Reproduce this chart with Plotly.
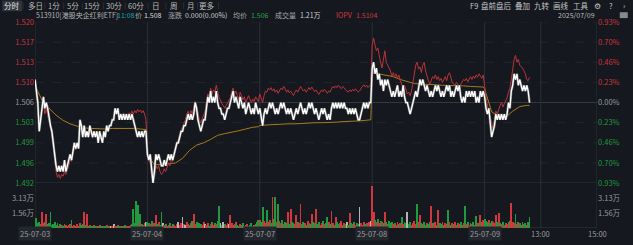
import plotly.graph_objects as go

# ---------------- data ----------------
BASE = 1.506          # reference price (0.00%)
STEP = 3              # minutes between samples
DAY_MIN = 240         # trading minutes per day

day_labels = ["25-07-03", "25-07-04", "25-07-07", "25-07-08", "25-07-09"]
extra_labels = [("13:00", 4 * 240 + 120), ("15:00", 5 * 240)]

price_d1 = [1.510,1.508,1.506,1.501,1.503,1.506,1.507,1.505,1.506,1.505,
            1.503,1.502,1.501,1.499,1.496,1.495,1.494,1.495,1.494,1.495,
            1.494,1.496,1.494,1.495,1.496,1.497,1.496,1.498,1.499,1.498,
            1.499,1.498,1.503,1.502,1.500,1.502,1.500,1.501,1.500,1.502,
            1.501,1.500,1.501,1.500,1.501,1.499,1.501,1.500,1.499,1.501,
            1.500,1.502,1.501,1.502,1.502,1.503,1.503,1.505,1.504,1.505,
            1.503,1.504,1.503,1.504,1.503,1.504,1.503,1.504,1.503,1.504,
            1.503,1.502,1.501,1.500,1.501,1.500,1.501,1.500,1.501,1.501]
price_d2 = [1.497,1.496,1.497,1.494,1.492,1.494,1.497,1.496,1.497,1.496,
            1.495,1.495,1.496,1.495,1.496,1.497,1.496,1.497,1.496,1.497,
            1.498,1.499,1.499,1.500,1.501,1.501,1.502,1.502,1.503,1.504,
            1.503,1.504,1.503,1.504,1.506,1.505,1.503,1.502,1.501,1.502,
            1.503,1.503,1.505,1.507,1.506,1.508,1.506,1.507,1.506,1.508,
            1.506,1.505,1.505,1.504,1.504,1.503,1.504,1.505,1.505,1.506,
            1.507,1.508,1.506,1.507,1.506,1.505,1.507,1.506,1.505,1.506,
            1.504,1.505,1.506,1.505,1.504,1.505,1.504,1.506,1.505,1.504]
price_d3 = [1.505,1.503,1.502,1.504,1.505,1.504,1.505,1.506,1.505,1.506,
            1.505,1.504,1.505,1.504,1.505,1.506,1.505,1.506,1.505,1.504,
            1.505,1.504,1.505,1.504,1.503,1.504,1.505,1.504,1.505,1.506,
            1.505,1.504,1.505,1.504,1.505,1.506,1.505,1.506,1.505,1.504,
            1.505,1.504,1.503,1.504,1.505,1.504,1.505,1.504,1.503,1.504,
            1.503,1.505,1.506,1.505,1.506,1.505,1.506,1.505,1.506,1.505,
            1.506,1.505,1.505,1.504,1.505,1.504,1.505,1.504,1.505,1.504,
            1.503,1.503,1.504,1.505,1.506,1.505,1.506,1.505,1.506,1.506]
price_d4 = [1.512,1.513,1.511,1.512,1.510,1.511,1.509,1.510,1.508,1.510,
            1.509,1.510,1.509,1.508,1.507,1.508,1.507,1.508,1.509,1.507,
            1.508,1.507,1.509,1.507,1.506,1.506,1.505,1.504,1.505,1.506,
            1.507,1.508,1.507,1.509,1.510,1.509,1.510,1.509,1.508,1.509,
            1.508,1.507,1.508,1.507,1.508,1.509,1.508,1.509,1.508,1.507,
            1.508,1.507,1.508,1.509,1.508,1.509,1.507,1.508,1.507,1.508,
            1.509,1.508,1.509,1.507,1.506,1.507,1.506,1.508,1.507,1.508,
            1.507,1.508,1.507,1.508,1.506,1.507,1.506,1.508,1.507,1.508]
price_d5 = [1.507,1.505,1.504,1.505,1.503,1.500,1.501,1.502,1.504,1.503,
            1.504,1.503,1.504,1.503,1.504,1.503,1.504,1.506,1.505,1.508,
            1.509,1.511,1.510,1.511,1.509,1.510,1.509,1.508,1.509,1.508,
            1.509,1.508,1.506]

iopv_d1 = [1.5100,1.5085,1.5060,1.5020,1.5035,1.5055,1.5060,1.5040,1.5050,1.5040,
           1.5030,1.5015,1.5005,1.4985,1.4955,1.4940,1.4930,1.4935,1.4928,1.4935,
           1.4932,1.4940,1.4935,1.4942,1.4950,1.4960,1.4958,1.4970,1.4980,1.4978,
           1.4985,1.4990,1.5020,1.5015,1.5005,1.5012,1.5000,1.5008,1.5002,1.5010,
           1.5005,1.4998,1.5006,1.5000,1.5004,1.4995,1.5003,1.4998,1.4995,1.5005,
           1.5002,1.5012,1.5010,1.5018,1.5022,1.5030,1.5035,1.5045,1.5040,1.5045,
           1.5035,1.5040,1.5038,1.5042,1.5038,1.5040,1.5036,1.5042,1.5040,1.5045,
           1.5040,1.5046,1.5042,1.5048,1.5044,1.5047,1.5042,1.5046,1.5040,1.5030]
iopv_d2 = [1.4975,1.4960,1.4955,1.4935,1.4925,1.4930,1.4950,1.4945,1.4950,1.4940,
           1.4935,1.4938,1.4945,1.4940,1.4948,1.4955,1.4950,1.4960,1.4958,1.4968,
           1.4978,1.4990,1.4995,1.5005,1.5012,1.5018,1.5025,1.5030,1.5040,1.5045,
           1.5038,1.5046,1.5040,1.5050,1.5062,1.5055,1.5042,1.5030,1.5025,1.5032,
           1.5040,1.5045,1.5060,1.5075,1.5070,1.5085,1.5075,1.5082,1.5078,1.5090,
           1.5080,1.5068,1.5065,1.5058,1.5055,1.5050,1.5055,1.5060,1.5062,1.5068,
           1.5078,1.5085,1.5075,1.5080,1.5072,1.5065,1.5078,1.5072,1.5065,1.5070,
           1.5060,1.5066,1.5072,1.5066,1.5060,1.5066,1.5062,1.5070,1.5066,1.5062]
iopv_d3 = [1.5075,1.5065,1.5060,1.5072,1.5080,1.5078,1.5085,1.5082,1.5086,1.5080,
           1.5084,1.5078,1.5082,1.5076,1.5080,1.5085,1.5082,1.5088,1.5084,1.5078,
           1.5082,1.5077,1.5080,1.5076,1.5072,1.5078,1.5082,1.5078,1.5084,1.5088,
           1.5084,1.5080,1.5083,1.5078,1.5082,1.5086,1.5082,1.5087,1.5083,1.5079,
           1.5082,1.5078,1.5074,1.5078,1.5082,1.5079,1.5083,1.5080,1.5076,1.5080,
           1.5078,1.5084,1.5088,1.5085,1.5089,1.5086,1.5090,1.5087,1.5084,1.5088,
           1.5086,1.5082,1.5080,1.5078,1.5082,1.5079,1.5083,1.5080,1.5084,1.5081,
           1.5078,1.5080,1.5085,1.5088,1.5091,1.5087,1.5090,1.5086,1.5089,1.5092]
iopv_d4 = [1.5160,1.5172,1.5160,1.5150,1.5155,1.5140,1.5130,1.5120,1.5140,1.5150,
           1.5130,1.5125,1.5120,1.5115,1.5105,1.5112,1.5105,1.5110,1.5102,1.5108,
           1.5098,1.5092,1.5085,1.5090,1.5080,1.5075,1.5078,1.5072,1.5080,1.5095,
           1.5110,1.5125,1.5130,1.5118,1.5122,1.5112,1.5125,1.5130,1.5115,1.5105,
           1.5098,1.5092,1.5100,1.5105,1.5102,1.5108,1.5100,1.5105,1.5098,1.5102,
           1.5095,1.5100,1.5105,1.5098,1.5108,1.5112,1.5102,1.5095,1.5092,1.5090,
           1.5095,1.5092,1.5088,1.5092,1.5095,1.5100,1.5098,1.5102,1.5096,1.5100,
           1.5105,1.5100,1.5106,1.5102,1.5108,1.5104,1.5110,1.5106,1.5102,1.5108]
iopv_d5 = [1.5085,1.5070,1.5055,1.5045,1.5035,1.5025,1.5015,1.5030,1.5045,1.5040,
           1.5050,1.5055,1.5060,1.5052,1.5058,1.5062,1.5068,1.5078,1.5085,1.5100,
           1.5120,1.5135,1.5142,1.5130,1.5135,1.5125,1.5122,1.5120,1.5115,1.5110,
           1.5100,1.5098,1.5104]

# average price, sampled at these sample indices of each day
avg_idx_full = [0, 5, 10, 15, 20, 25, 30, 35, 40, 45, 50, 55, 60, 65, 70, 75, 79]
avg_idx_d5 = [0, 5, 10, 15, 20, 25, 30, 32]
avg_d1 = [1.5090,1.5064,1.5050,1.5038,1.5029,1.5023,1.5019,1.5016,1.5015,1.5014,1.5014,1.5015,1.5015,1.5016,1.5015,1.5014,1.5013]
avg_d2 = [1.4970,1.4952,1.4952,1.4953,1.4955,1.4963,1.4977,1.4986,1.4990,1.4996,1.5003,1.5006,1.5008,1.5011,1.5014,1.5017,1.5018]
avg_d3 = [1.5020,1.5021,1.5022,1.5022,1.5023,1.5023,1.5024,1.5024,1.5025,1.5025,1.5025,1.5026,1.5027,1.5027,1.5028,1.5029,1.5030]
avg_d4 = [1.5112,1.5110,1.5108,1.5105,1.5100,1.5096,1.5093,1.5092,1.5092,1.5091,1.5090,1.5090,1.5089,1.5089,1.5088,1.5088,1.5087]
avg_d5 = [1.5084,1.5044,1.5036,1.5034,1.5045,1.5053,1.5055,1.5055]

# volume in 万 (10k shares)
vol_d1 = [0.7,1.0,0.5,0.6,0.4,1.66,0.5,0.6,1.5,0.4,
          0.5,1.66,0.3,0.4,0.6,0.3,0.5,0.2,0.4,0.3,
          0.2,0.4,0.3,0.2,0.3,0.4,0.85,0.2,0.3,0.2,
          0.4,0.2,0.5,0.3,0.4,1.66,0.3,1.5,0.2,0.3,
          0.2,0.1,0.3,0.2,0.1,0.2,0.3,0.1,0.2,0.1,
          0.2,0.3,0.1,0.2,0.1,0.2,0.4,0.2,0.1,0.3,
          0.2,0.1,0.2,0.1,0.3,0.2,0.1,0.2,0.3,0.4,
          2.0,0.5,2.86,2.35,0.6,1.5,0.4,0.3,0.5,0.6]
vol_d2 = [0.6,0.5,0.4,0.7,0.3,0.5,1.3,0.4,0.6,0.3,
          1.66,0.5,0.3,0.4,0.2,0.3,0.5,0.2,0.4,0.3,
          0.2,0.4,0.6,0.3,0.5,1.1,0.4,0.3,0.6,0.4,
          0.3,0.5,0.7,1.5,0.4,0.6,0.3,0.5,0.4,0.3,
          0.6,0.4,0.3,0.5,0.2,0.4,0.6,0.3,0.5,0.4,
          0.7,2.24,0.5,0.3,0.6,0.4,0.3,0.5,0.4,1.3,
          0.5,0.3,0.4,0.6,0.3,0.2,0.4,0.3,0.5,0.2,
          0.3,0.4,0.2,0.3,0.5,0.2,0.3,0.4,0.6,0.8]
vol_d3 = [0.8,0.6,2.2,0.7,0.5,1.9,0.6,0.8,0.5,3.2,
          0.9,3.2,0.6,2.5,0.7,0.5,0.8,0.4,0.6,0.5,
          1.66,0.4,2.0,0.6,0.5,0.4,1.3,0.6,0.5,2.45,
          0.4,0.6,0.5,0.3,0.7,0.5,0.4,1.5,0.6,0.5,
          2.0,0.4,0.6,0.3,0.5,0.7,0.4,0.5,1.1,0.6,
          0.4,1.8,0.5,0.3,1.1,0.6,0.4,0.5,0.7,0.3,
          0.5,0.4,0.6,0.3,1.6,0.5,0.4,0.6,0.3,0.5,
          0.4,2.2,0.5,0.3,0.6,0.4,0.5,0.3,0.6,0.7]
vol_d4 = [4.4,1.66,0.8,0.6,0.9,0.5,0.7,0.6,0.5,1.66,
          0.6,0.4,0.7,0.5,0.6,0.4,0.5,0.3,0.6,0.4,
          0.5,1.1,0.4,0.6,0.5,1.66,0.4,0.6,0.3,0.5,
          0.7,0.4,2.45,0.6,1.3,0.5,0.4,0.6,0.3,0.5,
          0.4,0.6,2.24,0.5,0.4,0.6,0.3,1.9,0.5,0.4,
          0.6,0.3,0.5,0.4,1.9,0.6,0.3,0.5,0.4,0.6,
          0.3,0.5,0.4,0.6,0.3,0.5,2.24,0.4,0.6,0.3,
          0.5,0.4,0.6,0.3,1.2,0.5,0.4,1.3,0.6,0.8]
vol_d5 = [0.9,0.7,0.6,0.8,0.5,0.7,0.6,0.5,1.3,0.6,
          1.6,0.5,0.4,0.6,0.3,0.5,0.4,0.6,0.7,2.55,
          0.6,0.5,1.5,0.4,0.6,0.5,0.3,0.6,0.4,0.5,
          0.3,0.6,1.1]

price_days = [price_d1, price_d2, price_d3, price_d4, price_d5]
iopv_days = [iopv_d1, iopv_d2, iopv_d3, iopv_d4, iopv_d5]
avg_days = [avg_d1, avg_d2, avg_d3, avg_d4, avg_d5]
avg_idx_days = [avg_idx_full] * 4 + [avg_idx_d5]
vol_days = [vol_d1, vol_d2, vol_d3, vol_d4, vol_d5]

price_ticks_text = ["1.492", "1.496", "1.499", "1.503", "1.506", "1.510", "1.513", "1.517", "1.520"]
pct_ticks_text = ["0.93%", "0.70%", "0.46%", "0.23%", "0.00%", "0.23%", "0.46%", "0.70%", "0.93%"]
vol_ticks = [1.56, 3.13]
vol_ticks_text = ["1.56万", "3.13万"]
VOL_MAX = 4.69

# ---------------- build series ----------------
t_all, p_all, i_all, v_all = [], [], [], []
t_avg, a_all = [], []
for d in range(5):
    for k, p in enumerate(price_days[d]):
        t_all.append(d * DAY_MIN + k * STEP)
        p_all.append(p)
        i_all.append(iopv_days[d][k])
        v_all.append(vol_days[d][k])
    for k, a in zip(avg_idx_days[d], avg_days[d]):
        t_avg.append(d * DAY_MIN + k * STEP)
        a_all.append(a)

RED, GREEN, GREY = "#d0383e", "#1f9a3c", "#b4b4b4"
vcol = []
for k, p in enumerate(p_all):
    prev = p_all[k - 1] if k else p
    vcol.append(RED if p > prev else GREEN if p < prev else GREY)

step_pct = 0.0035
tick_vals = [BASE + (k - 4) * step_pct for k in range(9)]
YMIN, YMAX = tick_vals[0], tick_vals[-1]

# ---------------- layout geometry ----------------
W, H = 633, 245
ML, MR, MT, MB = 33, 33, 22, 12
PW, PH = W - ML - MR, H - MT - MB
VOL_H = 46
vol_dom = [0, VOL_H / PH]
main_dom = [VOL_H / PH, 1]

def ax(px):
    return (px - ML) / PW

def ay(py):
    return (H - MB - py) / PH

FONT = "Noto Sans CJK SC, Noto Sans, sans-serif"
BG = "#15181e"
GRID = "#2b2f37"

fig = go.Figure()
fig.add_trace(go.Scatter(x=t_avg, y=a_all, mode="lines",
                         line=dict(color="#a67c1c", width=1), yaxis="y", hoverinfo="skip"))
fig.add_trace(go.Scatter(x=t_all, y=i_all, mode="lines",
                         line=dict(color="#b8343a", width=1), yaxis="y", hoverinfo="skip"))
fig.add_trace(go.Scatter(x=t_all, y=p_all, mode="lines",
                         line=dict(color="#6c6c6c", width=2.4), yaxis="y", hoverinfo="skip"))
fig.add_trace(go.Scatter(x=t_all, y=p_all, mode="lines",
                         line=dict(color="#ffffff", width=1.3), yaxis="y", hoverinfo="skip"))
fig.add_trace(go.Bar(x=t_all, y=v_all, marker=dict(color=vcol, line=dict(width=0)),
                     width=1.9, yaxis="y2", hoverinfo="skip"))
# invisible traces that carry the right-hand axes
fig.add_trace(go.Scatter(x=[0], y=[BASE], mode="markers", marker=dict(opacity=0),
                         yaxis="y3", hoverinfo="skip"))
fig.add_trace(go.Scatter(x=[0], y=[0], mode="markers", marker=dict(opacity=0),
                         yaxis="y4", hoverinfo="skip"))

def col_for(k):
    return "#c9353c" if k > 4 else ("#1f9a3c" if k < 4 else "#9a9a9a")

left_text = [f'<span style="color:{col_for(k)}">{s}</span>' for k, s in enumerate(price_ticks_text)]
right_text = [f'<span style="color:{col_for(k)}">{s}</span>' for k, s in enumerate(pct_ticks_text)]

axis_common = dict(showgrid=False, zeroline=False, showline=False, ticks="",
                   tickfont=dict(family=FONT, size=7.5, color="#9a9a9a"))
x_common = {k: v for k, v in axis_common.items() if k != "tickfont"}

fig.update_layout(
    width=W, height=H, margin=dict(l=ML, r=MR, t=MT, b=MB),
    paper_bgcolor=BG, plot_bgcolor=BG, showlegend=False, bargap=0,
    font=dict(family=FONT, size=7.5, color="#b0b0b0"),
    xaxis=dict(range=[0, 5 * DAY_MIN], anchor="y2", showticklabels=False, **x_common),
    yaxis=dict(domain=main_dom, range=[YMIN, YMAX], tickvals=tick_vals, ticktext=left_text, anchor="x", **axis_common),
    yaxis2=dict(domain=vol_dom, range=[0, VOL_MAX], tickvals=vol_ticks, ticktext=vol_ticks_text, anchor="x", **axis_common),
    yaxis3=dict(overlaying="y", side="right", range=[YMIN, YMAX], tickvals=tick_vals, ticktext=right_text, anchor="x", **axis_common),
    yaxis4=dict(overlaying="y2", side="right", range=[0, VOL_MAX], tickvals=vol_ticks, ticktext=vol_ticks_text, anchor="x", **axis_common),
)

shapes = []
for k, v in enumerate(tick_vals):
    if k in (0, 4):
        shapes.append(dict(type="line", xref="paper", yref="y", x0=0, x1=1, y0=v, y1=v,
                           line=dict(color="#353942", width=1), layer="below"))
    else:
        shapes.append(dict(type="line", xref="paper", yref="y", x0=0, x1=1, y0=v, y1=v,
                           line=dict(color="#22262d", width=1, dash="dash"), layer="below"))
shapes.append(dict(type="line", xref="paper", yref="y2", x0=0, x1=1, y0=0, y1=0,
                   line=dict(color="#353942", width=1), layer="below"))
for tv in [0, 240, 480, 720, 960, 1080, 1200]:
    shapes.append(dict(type="line", xref="x", yref="paper", x0=tv, x1=tv, y0=0, y1=1,
                       line=dict(color=GRID, width=1), layer="below"))
shapes.append(dict(type="rect", xref="paper", yref="paper", x0=ax(0), x1=ax(20), y0=ay(11), y1=ay(0),
                   fillcolor="#30343c", line=dict(width=0), layer="below"))
for sx in [21, 43, 62, 81, 102, 124, 147, 165, 183, 197, 218]:
    shapes.append(dict(type="line", xref="paper", yref="paper", x0=ax(sx), x1=ax(sx), y0=ay(9), y1=ay(2),
                       line=dict(color="#2a2e36", width=1)))
shapes.append(dict(type="rect", xref="paper", yref="paper", x0=ax(623), x1=ax(631), y0=ay(18), y1=ay(12),
                   fillcolor="#8a8a8a", line=dict(width=0)))
fig.update_layout(shapes=shapes)

ann = []
def txt(x, y, s, color="#bdbdbd", size=7.5, anchor="center", bg=None):
    d = dict(xref="paper", yref="paper", x=ax(x), y=ay(y), text=s, showarrow=False,
             xanchor=anchor, yanchor="middle", font=dict(family=FONT, size=size, color=color))
    if bg:
        d["bgcolor"] = bg
    ann.append(d)

tabs = [("分时", 10), ("多日", 33), ("1分", 52), ("5分", 71), ("15分", 91), ("30分", 113),
        ("60分", 135), ("日", 155), ("周", 173), ("月", 190), ("更多", 207)]
for s, cx in tabs:
    txt(cx, 5.5, s, "#e6e6e6" if s == "分时" else "#bdbdbd")
right_tabs = [("F9", 476), ("盘前盘后", 499), ("叠加", 525), ("九转", 545), ("画线", 564), ("工具", 584),
              ("⚙", 600), ("?", 614), ("›", 627)]
for s, cx in right_tabs:
    txt(cx, 5.5, s, "#c4c4c4")

info = [("513910[港股央企红利ETF]", 32, "#b4b4b4"), ("11:08", 114, "#1ba6a6"), ("价", 132, "#a8a8a8"),
        ("1.508", 141, "#dcdcdc"), ("涨跌", 165, "#a8a8a8"), ("0.000(0.00%)", 182, "#d0d0d0"),
        ("均价", 231, "#a8a8a8"), ("1.506", 249, "#27a547"), ("成交量", 273, "#a8a8a8"),
        ("1.21万", 298, "#d0d0d0"), ("IOPV", 335, "#d0383e"), ("1.5104", 355, "#d0383e")]
for s, x0, c in info:
    txt(x0, 15, s, c, size=7, anchor="left")
txt(600, 15, "2025/07/09", "#bdbdbd", size=7, anchor="right")

for k, lab in enumerate(day_labels):
    ann.append(dict(xref="x", yref="paper", x=k * DAY_MIN, y=ay(238.5), text=lab, showarrow=False,
                    xanchor="center", yanchor="middle", bgcolor="#22262d",
                    font=dict(family=FONT, size=7.5, color="#9a9a9a")))
for lab, tv in extra_labels:
    ann.append(dict(xref="x", yref="paper", x=tv, y=ay(238.5), text=lab, showarrow=False,
                    xanchor="center", yanchor="middle",
                    font=dict(family=FONT, size=7.5, color="#9a9a9a")))
fig.update_layout(annotations=ann)

fig.write_html("out.html")
